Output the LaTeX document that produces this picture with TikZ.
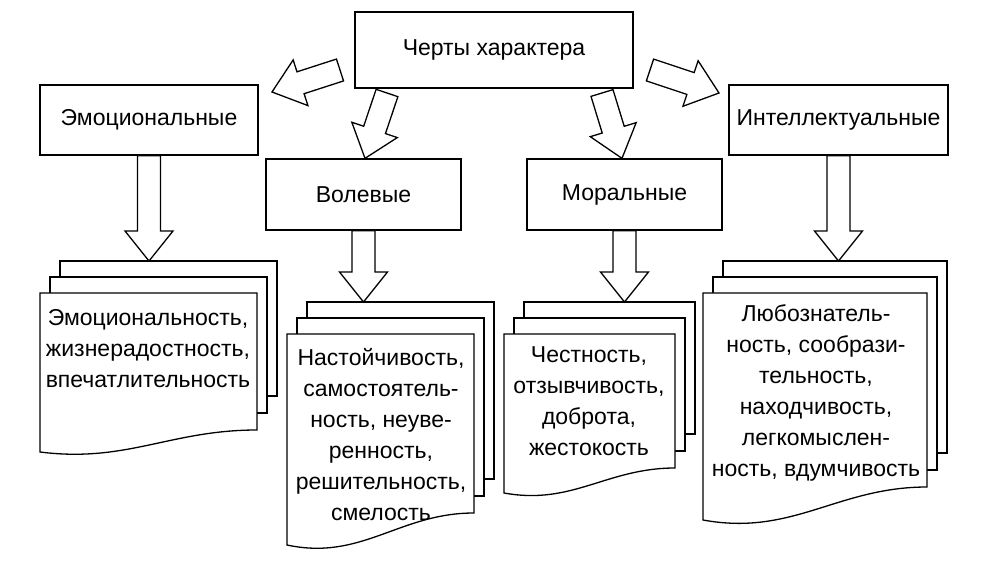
\documentclass[tikz,border=0pt]{standalone}
\usepackage{fontspec}
\setmainfont{Liberation Sans}
\usepackage{tikz}
\usetikzlibrary{calc, positioning}

\newcommand\fatarrow[2]{%
	\coordinate (fa-base) at ($(#2)!30pt!(#1)$);
	\draw[fat] ($(#1)!11.5pt!90:(#2)$) -- ($(fa-base)!11.5pt!90:(#2)$) -- ($(fa-base)!24pt!90:(#2)$) -- (#2)
		-- ($(fa-base)!24pt!-90:(#2)$) -- ($(fa-base)!11.5pt!-90:(#2)$) -- ($(#1)!11.5pt!-90:(#2)$) -- cycle;
}
\newcommand\docstack[6]{%
	\foreach \k in {2,1} {
		\draw[page] ({#2+10*\k},{#3-16*\k}) rectangle ({#4+10*\k},{#5-17*\k});
	}
	\draw[page] (#2,#3) -- (#4,#3) -- (#4,#5)
		.. controls ({#4-0.4*(#4-#2)},#5) and ({#2+0.4*(#4-#2)},{#6+0.5*(#6-#5)}) .. (#2,#6) -- cycle;
	\coordinate (#1) at (#2,{#3-32});
}

\begin{document}
\begin{tikzpicture}[x=1pt, y=-1pt, line width=1.3pt, font=\fontsize{23}{31}\selectfont]
	\tikzset{box/.style={draw, fill=white, inner sep=0pt},
		fat/.style={draw, fill=white, line join=miter},
		page/.style={draw, fill=white},
		txt/.style={align=center, inner sep=0pt}}
	\useasboundingbox (0,0) rectangle (986,572);

	\node[box, minimum width=278, minimum height=76] (top) at (494,50) {Черты характера};
	\node[box, minimum width=218, minimum height=70] (emo) at (149,120) {Эмоциональные};
	\node[box, minimum width=195, minimum height=71] (vol) at (363.5,194.5) {Волевые};
	\node[box, minimum width=195, minimum height=71] (mor) at (624.5,194.5) {Моральные};
	\node[box, minimum width=219, minimum height=70] (int) at (838.5,120) {Интеллектуальные};

	\docstack{emo-top}{40}{293}{257}{430}{452}
	\docstack{vol-top}{287}{334}{474}{513}{545}
	\docstack{mor-top}{504}{334}{675}{468}{493}
	\docstack{int-top}{703}{293}{927}{487}{520}

	\node[txt] (emo-list) at (148,349) {Эмоциональность,\\жизнерадостность,\\впечатлительность};
	\node[txt] (vol-list) at (381,435) {Настойчивость,\\самостоятель-\\ность, неуве-\\ренность,\\решительность,\\смелость};
	\node[txt] (mor-list) at (589,401) {Честность,\\отзывчивость,\\доброта,\\жестокость};
	\node[txt] (int-list) at (816,393) {Любознатель-\\ность, сообрази-\\тельность,\\находчивость,\\легкомыслен-\\ность, вдумчивость};

	\coordinate (emo-tail) at (340,70);
	\coordinate (emo-tip) at (272,92);
	\coordinate (vol-tail) at (387,93);
	\coordinate (vol-tip) at (vol.north -| 365,0);
	\coordinate (mor-tail) at (602,93);
	\coordinate (mor-tip) at (mor.north -| 622,0);
	\coordinate (int-tail) at (650,70);
	\coordinate (int-tip) at (719,93);
	\fatarrow{emo-tail}{emo-tip}
	\fatarrow{vol-tail}{vol-tip}
	\fatarrow{mor-tail}{mor-tip}
	\fatarrow{int-tail}{int-tip}

	\coordinate (emo-end) at (emo.south |- emo-top);
	\coordinate (vol-end) at (vol.south |- vol-top);
	\coordinate (mor-end) at (mor.south |- mor-top);
	\coordinate (int-end) at (int.south |- int-top);
	\fatarrow{emo.south}{emo-end}
	\fatarrow{vol.south}{vol-end}
	\fatarrow{mor.south}{mor-end}
	\fatarrow{int.south}{int-end}
\end{tikzpicture}
\end{document}
